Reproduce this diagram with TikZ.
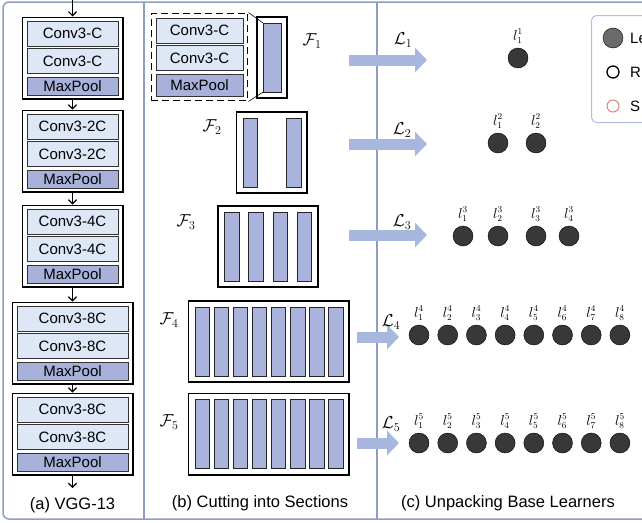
\documentclass[tikz,border=0pt]{standalone}
\usepackage{fontspec}
\setmainfont{Liberation Sans}
\usepackage{amsmath,amssymb}
\usepackage{tikz}
\usetikzlibrary{arrows.meta, positioning, calc, fit}

\definecolor{convfill}{HTML}{DDE7F6}
\definecolor{poolfill}{HTML}{A7B1DA}
\definecolor{barfill}{HTML}{A9B3DC}
\definecolor{arrowfill}{HTML}{A8B7DE}
\definecolor{framecol}{HTML}{8E9DC2}
\definecolor{legline}{HTML}{AEBEE0}
\definecolor{sampcol}{HTML}{D58A6C}

\begin{document}
\begin{tikzpicture}[
            x=1pt, y=-1pt,
            font=\fontsize{15}{18}\selectfont,
            >={Straight Barb[length=4pt,width=8pt]},
            conv/.style   ={draw=black!80, fill=convfill, minimum width=91pt,
                    minimum height=25pt, inner sep=0pt},
            pool/.style   ={draw=black!80, fill=poolfill, minimum width=91pt,
                    minimum height=18pt, inner sep=0pt},
            blk/.style    ={draw, line width=1.6pt, inner xsep=4.5pt, inner ysep=3.5pt},
            cutbx/.style  ={draw, dash pattern=on 7pt off 4pt, line width=1.5pt, inner sep=4.5pt},
            bar/.style    ={draw=black!85, fill=barfill, minimum width=14.5pt,
                    minimum height=69pt, inner sep=0pt},
            sec/.style    ={draw, line width=1.6pt, inner sep=6pt},
            flow/.style   ={->, line width=1.2pt},
            big/.style    ={draw=arrowfill, line width=11pt,
                    -{Triangle[length=12pt,width=24pt]}},
            learner/.style={circle, draw=black, fill=black!78, minimum size=20pt,
                    inner sep=0pt},
            llab/.style   ={font=\fontsize{13.5}{15}\selectfont, inner sep=0pt, label distance=4pt},
            mlab/.style   ={font=\fontsize{18}{20}\selectfont, inner sep=1pt},
            caption/.style={font=\fontsize{16.5}{19}\selectfont},
            frame/.style  ={draw=framecol, line width=1.5pt}
        ]

        \useasboundingbox (0,0) rectangle (642,522);
        \clip (0,0) rectangle (642,522);

        % outer frame and the two panel dividers
        \draw[frame, rounded corners=6pt] (3,2) rectangle (700,519);
        \draw[frame] (144,2) -- (144,519);
        \draw[frame] (377,2) -- (377,519);

        %% --- (a) VGG-13 ---
        \node[conv] (c1a) at (72.5,33.5) {Conv3-C};
        \node[conv] (c1b) at (72.5,61)   {Conv3-C};
        \node[pool] (p1)  at (72.5,86)   {MaxPool};
        \node[blk, fit=(c1a)(p1)] (b1) {};

        \node[conv] (c2a) at (72.5,126.5) {Conv3-2C};
        \node[conv] (c2b) at (72.5,154)   {Conv3-2C};
        \node[pool] (p2)  at (72.5,179)   {MaxPool};
        \node[blk, fit=(c2a)(p2)] (b2) {};

        \node[conv] (c3a) at (72.5,221.5) {Conv3-4C};
        \node[conv] (c3b) at (72.5,249)   {Conv3-4C};
        \node[pool] (p3)  at (72.5,274)   {MaxPool};
        \node[blk, fit=(c3a)(p3)] (b3) {};

        % the two last blocks are wider
        \node[conv, minimum width=111pt] (c4a) at (72.5,318.5) {Conv3-8C};
        \node[conv, minimum width=111pt] (c4b) at (72.5,346)   {Conv3-8C};
        \node[pool, minimum width=111pt] (p4)  at (72.5,371)   {MaxPool};
        \node[blk, fit=(c4a)(p4)] (b4) {};

        \node[conv, minimum width=111pt] (c5a) at (72.5,409.5) {Conv3-8C};
        \node[conv, minimum width=111pt] (c5b) at (72.5,437)   {Conv3-8C};
        \node[pool, minimum width=111pt] (p5)  at (72.5,462)   {MaxPool};
        \node[blk, fit=(c5a)(p5)] (b5) {};

        \coordinate (in)  at (72.5,0);
        \coordinate (out) at (72.5,488);
        \draw[flow] (in) -- (b1.north);
        \draw[flow] (b1.south) -- (b2.north);
        \draw[flow] (b2.south) -- (b3.north);
        \draw[flow] (b3.south) -- (b4.north);
        \draw[flow] (b4.south) -- (b5.north);
        \draw[flow] (b5.south) -- (out);

        \node[caption] (capa) at (72.5,505) {(a) VGG-13};

        %% --- (b) cutting into sections ---
        \node[conv, minimum width=87pt] (s1a) at (199.5,30.5) {Conv3-C};
        \node[conv, minimum width=87pt] (s1b) at (199.5,58)   {Conv3-C};
        \node[pool, minimum width=87pt, minimum height=22pt] (s1p) at (199.5,85) {MaxPool};
        \node[cutbx, fit=(s1a)(s1p)] (cutbox) {};

        \node[bar, minimum width=18pt] (f1b1) at (272,57.5) {};
        \node[sec, fit=(f1b1)] (f1) {};
        \draw[semithick] (cutbox.north east) -- (f1b1.north west);
        \draw[semithick] (cutbox.south east) -- (f1b1.south west);

        \node[bar] (f2b1) at (250,152.5) {};
        \node[bar] (f2b2) at (293.5,152.5) {};
        \node[sec, fit=(f2b1)(f2b2)] (f2) {};

        \foreach \i in {1,...,4}
            \node[bar] (f3b\i) at ({207.2+24.3*\i},246.5) {};
        \node[sec, fit=(f3b1)(f3b4)] (f3) {};

        \foreach \i in {1,...,8}
            \node[bar] (f4b\i) at ({182.9+19.1*\i},341.5) {};
        \node[sec, fit=(f4b1)(f4b8)] (f4) {};

        \foreach \i in {1,...,8}
            \node[bar] (f5b\i) at ({182.9+19.1*\i},434) {};
        \node[sec, fit=(f5b1)(f5b8)] (f5) {};

        \node[mlab] (lf1) at (312,41)  {$\mathcal{F}_{1}$};
        \node[mlab] (lf2) at (212,127) {$\mathcal{F}_{2}$};
        \node[mlab] (lf3) at (186,222) {$\mathcal{F}_{3}$};
        \node[mlab] (lf4) at (169,320) {$\mathcal{F}_{4}$};
        \node[mlab] (lf5) at (169,422) {$\mathcal{F}_{5}$};

        \node[caption] (capb) at (260,503) {(b) Cutting into Sections};

        %% --- (c) unpacking base learners ---
        % block arrows cross the divider, so they come after it
        \coordinate (a1s) at (349,60);  \coordinate (a1e) at (427,60);
        \coordinate (a2s) at (349,144); \coordinate (a2e) at (427,144);
        \coordinate (a3s) at (349,235); \coordinate (a3e) at (427,235);
        \coordinate (a4s) at (357,337); \coordinate (a4e) at (399,337);
        \coordinate (a5s) at (357,443); \coordinate (a5e) at (399,443);
        \draw[big] (a1s) -- (a1e);
        \draw[big] (a2s) -- (a2e);
        \draw[big] (a3s) -- (a3e);
        \draw[big] (a4s) -- (a4e);
        \draw[big] (a5s) -- (a5e);

        \node[mlab] (ll1) at (403,40)  {$\mathcal{L}_{1}$};
        \node[mlab] (ll2) at (402,130) {$\mathcal{L}_{2}$};
        \node[mlab] (ll3) at (402,222) {$\mathcal{L}_{3}$};
        \node[mlab] (ll4) at (391,322) {$\mathcal{L}_{4}$};
        \node[mlab] (ll5) at (391,424) {$\mathcal{L}_{5}$};

        \node[learner, label={[llab]above:$l_{1}^{1}$}] (l1n1) at (518,58) {};

        \node[learner, label={[llab]above:$l_{1}^{2}$}] (l2n1) at (498,143) {};
        \node[learner, label={[llab]above:$l_{2}^{2}$}] (l2n2) at (536,143) {};

        \foreach \x [count=\i] in {463,498,536,569}
            \node[learner, label={[llab]above:$l_{\i}^{3}$}] (l3n\i) at (\x,236) {};

        \foreach \i in {1,...,8}
            \node[learner, label={[llab]above:$l_{\i}^{4}$}] (l4n\i) at ({390.3+28.7*\i},335) {};

        \foreach \i in {1,...,8}
            \node[learner, label={[llab]above:$l_{\i}^{5}$}] (l5n\i) at ({390.3+28.7*\i},443) {};

        \node[caption] (capc) at (508,503) {(c) Unpacking Base Learners};

        %% --- legend, cut by the right edge ---
        \node[draw=legline, line width=1pt, rounded corners=5pt, anchor=north west,
              minimum width=100pt, minimum height=107pt] (leg) at (591,15) {};
        \node[circle, draw=black, fill=black!58, minimum size=20pt, inner sep=0pt] (ka) at (613,38) {};
        \node[circle, draw=black, line width=1.3pt, minimum size=12pt, inner sep=0pt] (kb) at (613,72) {};
        \node[circle, draw=sampcol, line width=1pt, minimum size=12pt, inner sep=0pt] (kc) at (613,106) {};
        \node[anchor=west, inner sep=0pt] (ta) at (630,38)  {Le};
        \node[anchor=west, inner sep=0pt] (tb) at (630,72)  {R};
        \node[anchor=west, inner sep=0pt] (tc) at (630,106) {S};

    \end{tikzpicture}
\end{document}
